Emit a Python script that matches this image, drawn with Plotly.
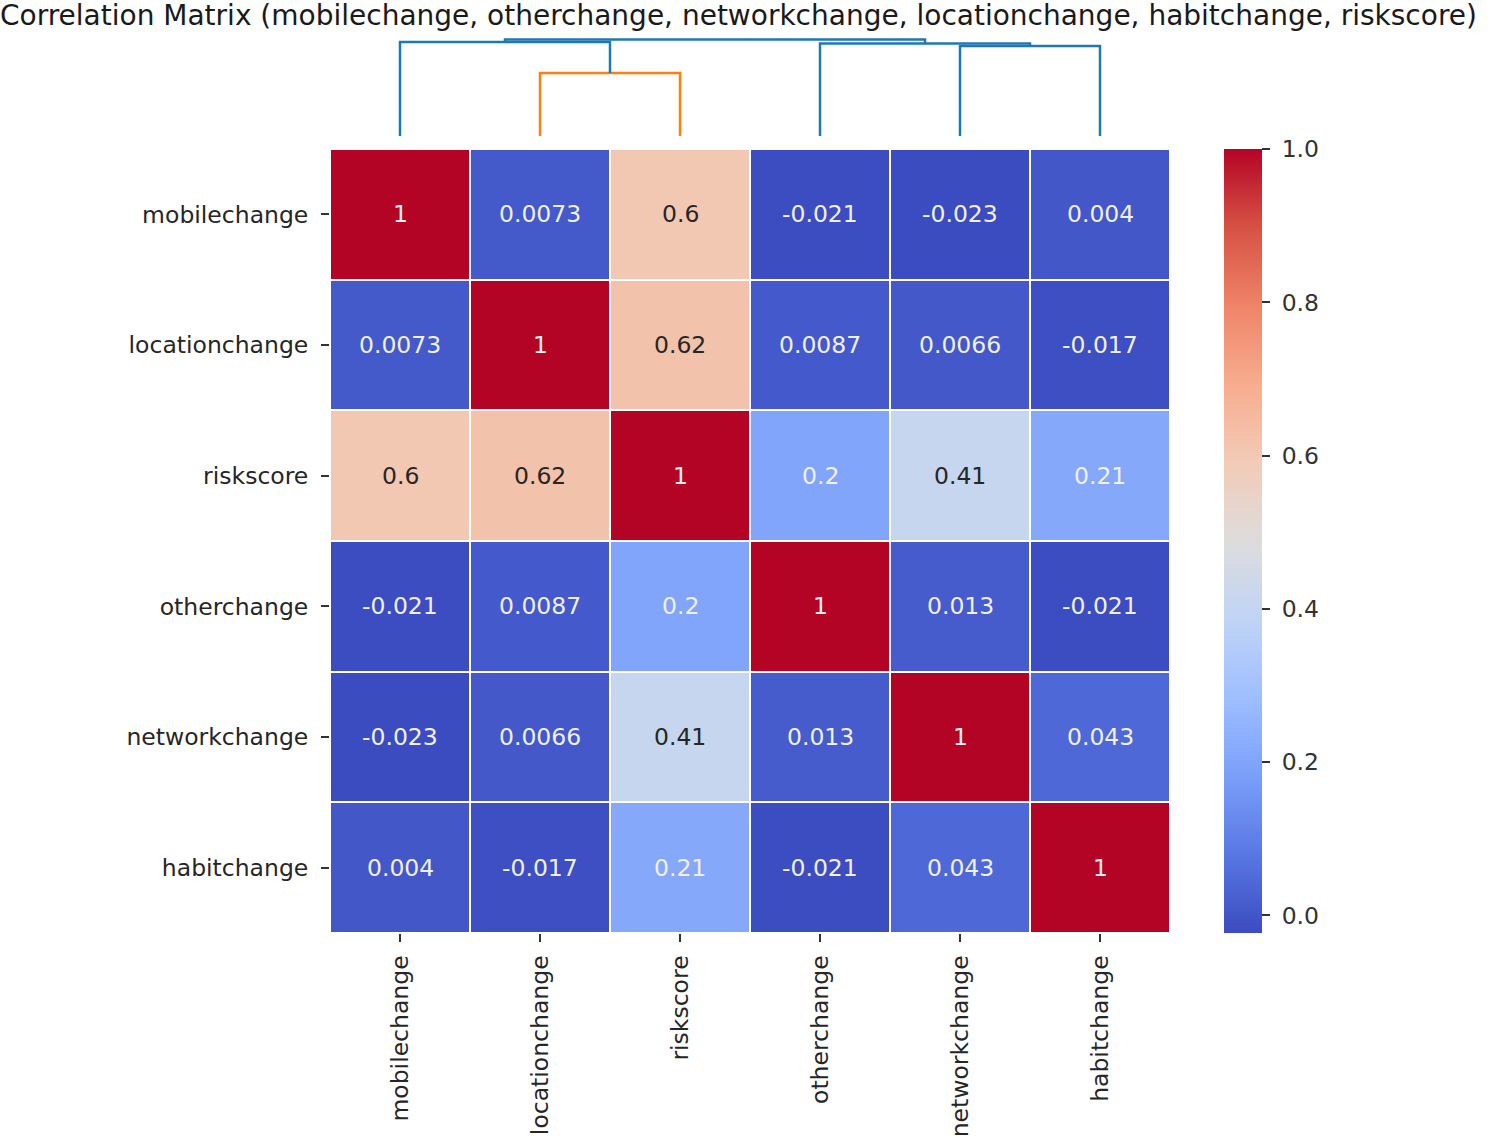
import plotly.graph_objects as go

# ---- data ----
labels = ["mobilechange", "locationchange", "riskscore", "otherchange", "networkchange", "habitchange"]
row_mobilechange = [1, 0.0073, 0.6, -0.021, -0.023, 0.004]
row_locationchange = [0.0073, 1, 0.62, 0.0087, 0.0066, -0.017]
row_riskscore = [0.6, 0.62, 1, 0.2, 0.41, 0.21]
row_otherchange = [-0.021, 0.0087, 0.2, 1, 0.013, -0.021]
row_networkchange = [-0.023, 0.0066, 0.41, 0.013, 1, 0.043]
row_habitchange = [0.004, -0.017, 0.21, -0.021, 0.043, 1]
corr = [row_mobilechange, row_locationchange, row_riskscore,
        row_otherchange, row_networkchange, row_habitchange]
cbar_ticks = [0.0, 0.2, 0.4, 0.6, 0.8, 1.0]

# dendrogram links: (left position, right position, left height, right height, join height, colour)
dendro_links = [
    (1, 2, 0.0, 0.0, 0.63, "#ff7f0e"),            # locationchange - riskscore
    (4, 5, 0.0, 0.0, 0.90, "#1f77b4"),            # networkchange - habitchange
    (3, 4.5, 0.0, 0.90, 0.925, "#1f77b4"),        # otherchange - (network, habit)
    (0, 1.5, 0.0, 0.63, 0.94, "#1f77b4"),         # mobilechange - (location, risk)
    (0.75, 3.75, 0.94, 0.925, 0.965, "#1f77b4"),  # top join
]

coolwarm = ['#3b4cc0', '#5977e3', '#7b9ff9', '#9ebeff', '#c0d4f5', '#dddcdc',
            '#f2cbb7', '#f7ac8e', '#ee8468', '#d65244', '#b40426']
colorscale = [[i / 10, c] for i, c in enumerate(coolwarm)]

zmin = min(min(r) for r in corr)
zmax = max(max(r) for r in corr)

W, H = 1496, 1138
def px_x(p):
    return p / W
def px_y(p):
    return 1 - p / H

def hex2rgb(h):
    h = h.lstrip('#')
    return [int(h[i:i + 2], 16) / 255 for i in (0, 2, 4)]

def cmap(t):
    t = max(0, min(1, t))
    i = min(int(t * 10), 9)
    f = t * 10 - i
    a, b = hex2rgb(coolwarm[i]), hex2rgb(coolwarm[i + 1])
    return [a[k] + (b[k] - a[k]) * f for k in range(3)]

def lum(rgb):
    out = []
    for c in rgb:
        out.append(c / 12.92 if c <= 0.03928 else ((c + 0.055) / 1.055) ** 2.4)
    return 0.2126 * out[0] + 0.7152 * out[1] + 0.0722 * out[2]

FONT = "DejaVu Sans"
FS = 23.5
fig = go.Figure()

fig.add_trace(go.Heatmap(
    z=corr, x=labels, y=labels,
    colorscale=colorscale, zmin=zmin, zmax=zmax,
    xgap=2, ygap=2,
    xaxis="x", yaxis="y",
    colorbar=dict(
        x=px_x(1224), xanchor="left", xpad=0,
        y=px_y(149), yanchor="top", ypad=0,
        len=784, lenmode="pixels",
        thickness=38, thicknessmode="pixels",
        outlinewidth=0,
        tickvals=cbar_ticks, ticktext=["\u00a0" + f"{v:.1f}" for v in cbar_ticks],
        ticks="outside", ticklen=8, tickwidth=1.5, tickcolor="#333333",
        tickfont=dict(family=FONT, size=FS, color="#333333"),
    ),
    hoverinfo="skip",
))

annotations = []
for i, row in enumerate(corr):
    for j, v in enumerate(row):
        t = (v - zmin) / (zmax - zmin)
        col = "#262626" if lum(cmap(t)) > 0.408 else "#f0f0f0"
        txt = f"{v:.2g}"
        annotations.append(dict(x=labels[j], y=labels[i], xref="x", yref="y",
                                text=txt, showarrow=False,
                                font=dict(family=FONT, size=FS, color=col)))

for (xl, xr, hl, hr, hj, c) in dendro_links:
    fig.add_trace(go.Scatter(
        x=[xl, xl, xr, xr], y=[hl, hj, hj, hr],
        mode="lines", line=dict(color=c, width=2.5),
        xaxis="x2", yaxis="y2", showlegend=False, hoverinfo="skip",
    ))

fig.update_layout(
    width=W, height=H,
    margin=dict(l=0, r=0, t=0, b=0),
    paper_bgcolor="white", plot_bgcolor="white",
    showlegend=False,
    title=dict(text="Correlation Matrix (mobilechange, otherchange, networkchange, locationchange, habitchange, riskscore)",
               x=0, xanchor="left", xref="paper", y=px_y(15), yanchor="middle", yref="paper",
               font=dict(family=FONT, size=28, color="#1a1a1a")),
    xaxis=dict(domain=[px_x(330), px_x(1170)], anchor="y",
               range=[-0.5, 5.5], tickangle=-90,
               ticks="outside", ticklen=8, tickwidth=1.5, tickcolor="#333333",
               ticklabelstandoff=4,
               tickfont=dict(family=FONT, size=FS, color="#262626"),
               showgrid=False, zeroline=False, showline=False, fixedrange=True),
    yaxis=dict(domain=[px_y(933), px_y(149)], anchor="x",
               range=[5.5, -0.5],
               ticks="outside", ticklen=8, tickwidth=1.5, tickcolor="#333333",
               ticklabelstandoff=8,
               tickfont=dict(family=FONT, size=FS, color="#262626"),
               showgrid=False, zeroline=False, showline=False, fixedrange=True),
    xaxis2=dict(domain=[px_x(330), px_x(1170)], anchor="y2",
                range=[-0.5, 5.5], visible=False, fixedrange=True),
    yaxis2=dict(domain=[px_y(136), px_y(36)], anchor="x2",
                range=[0, 1], visible=False, fixedrange=True),
    annotations=annotations,
)

fig.write_html("out.html", config={"displayModeBar": False},
               post_script="document.body.style.margin='0';")
